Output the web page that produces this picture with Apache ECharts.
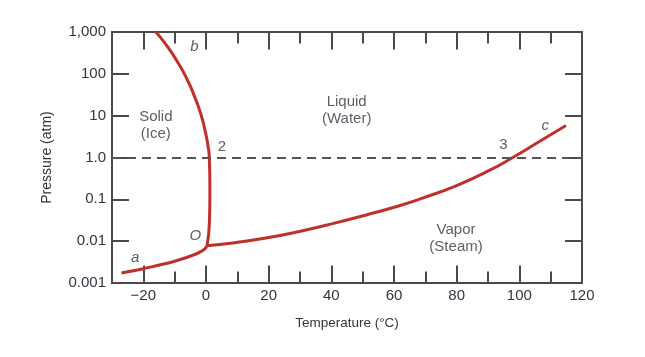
<!DOCTYPE html>
<html>
<head>
<meta charset="utf-8">
<script src="https://cdn.jsdelivr.net/npm/echarts@6/dist/echarts.min.js"></script>
<style>html,body{margin:0;padding:0;background:#fff}#c{width:645px;height:357px}</style>
</head>
<body>
<div id="c"></div>
<script>
// ---- data (temperature °C, pressure atm) ----
const solidLiquid = [[-16,1000],[-12.3,446],[-8.85,179],[-5.95,71.5],[-3.65,28.6],[-1.75,11.5],[-0.35,4.58],[0.67,1.83],[1.05,1.0],[1.24,0.152],[1.15,0.0429],[0.9,0.0169],[0.57,0.0103],[0.3,0.0078]];
const solidVapor = [[-27,0.00174],[-20,0.0022],[-10,0.0033],[-3,0.005],[-0.5,0.0064],[0.3,0.0078]];
const liquidVapor = [[0.3,0.0078],[8.5,0.00906],[19.15,0.0119],[29.8,0.0171],[40.4,0.0262],[51.1,0.0422],[61.7,0.0703],[69.1,0.107],[79.8,0.211],[90.4,0.49],[97.9,1.0],[106.4,2.41],[114.9,5.8]];
const referencePressure = 1.0;
const xTickValues = [-20,0,20,40,60,80,100,120];
const xTickLabels = ['\u221220','0','20','40','60','80','100','120'];
const xMinorValues = [-30,-10,10,30,50,70,90,110];
const yTickExponents = [-3,-2,-1,0,1,2,3];
const yTickLabels = ['0.001','0.01','0.1','1.0','10','100','1,000'];
const annoNames = ['b','Solid\n(Ice)','2','Liquid\n(Water)','3','c','O','a','Vapor\n(Steam)'];
const annoT = [-3.7,-16,5.1,44.9,94.9,108.3,-3.4,-22.6,79.8];
const annoP = [450,6.0,1.83,13.4,2.0,5.8,0.0135,0.00397,0.0119];
const italicNames = ['a','b','c','O'];

const FONT = '"Liberation Sans", Arial, sans-serif';
const TXT = '#33343f';
const AX = '#4a4a4a';
const RED = '#c0302b';

const chart = echarts.init(document.getElementById('c'), null, {renderer:'canvas'});

function xAxisBase(pos, withLabels, ticks, len) {
  return {
    type:'value', position:pos, min:-30, max:120, interval:10,
    axisLine:{show:true, onZero:false, lineStyle:{color:AX, width:2}},
    axisTick:{show:true, inside:true, length:len, customValues:ticks, lineStyle:{color:AX, width:2}},
    axisLabel:withLabels ? {
      show:true, customValues:xTickValues, margin:5, fontSize:15, color:TXT, fontFamily:FONT,
      formatter:v => { const i = xTickValues.indexOf(Math.round(v)); return i >= 0 ? xTickLabels[i] : ''; }
    } : {show:false},
    splitLine:{show:false}
  };
}
function yAxisBase(pos, withLabels) {
  return {
    type:'log', logBase:10, position:pos, min:0.001, max:1000, splitNumber:6,
    axisLine:{show:true, onZero:false, lineStyle:{color:AX, width:2}},
    axisTick:{show:true, inside:true, length:17, lineStyle:{color:AX, width:2}},
    axisLabel:withLabels ? {
      show:true, margin:6, fontSize:15, color:TXT, fontFamily:FONT,
      formatter:v => { const i = yTickExponents.indexOf(Math.round(Math.log10(v))); return i >= 0 ? yTickLabels[i] : ''; }
    } : {show:false},
    splitLine:{show:false}, minorTick:{show:false}
  };
}

const xMain = xAxisBase('bottom', true, xTickValues, 17.5);
xMain.name = 'Temperature (\u00B0C)';
xMain.nameLocation = 'middle';
xMain.nameGap = 33;
xMain.nameTextStyle = {fontSize:13.5, color:TXT, fontFamily:FONT};

const yMain = yAxisBase('left', true);
yMain.name = 'Pressure (atm)';
yMain.nameLocation = 'middle';
yMain.nameGap = 58;
yMain.nameTextStyle = {fontSize:14, color:TXT, fontFamily:FONT};

const lineSeries = (data, sm) => ({
  type:'line', data:data, xAxisIndex:0, yAxisIndex:0, smooth:sm, symbol:'none',
  lineStyle:{color:RED, width:3}, silent:true, z:3
});

const s1 = lineSeries(solidLiquid, 0.6);
s1.markLine = {
  silent:true, symbol:'none', label:{show:false},
  lineStyle:{type:[9,6], color:'#555', width:2},
  data:[{yAxis:referencePressure}]
};

const option = {
  animation:false,
  grid:{left:112, top:32, width:470, height:251, containLabel:false},
  xAxis:[
    xMain,
    xAxisBase('bottom', false, xMinorValues, 11.5),
    xAxisBase('top', false, xTickValues, 17.5),
    xAxisBase('top', false, xMinorValues, 11.5)
  ],
  yAxis:[yMain, yAxisBase('right', false)],
  series:[
    s1,
    lineSeries(solidVapor, 0.4),
    lineSeries(liquidVapor, 0.5),
    {
      type:'scatter', xAxisIndex:0, yAxisIndex:0, symbolSize:1, silent:true, z:5,
      itemStyle:{color:'transparent'},
      data:annoNames.map((n,i) => ({
        name:n, value:[annoT[i], annoP[i]],
        label:{fontStyle: italicNames.indexOf(n) >= 0 ? 'italic' : 'normal'}
      })),
      label:{show:true, position:'inside', formatter:'{b}', fontSize:15, lineHeight:17,
             color:TXT, fontFamily:FONT, align:'center', verticalAlign:'middle'}
    }
  ]
};
chart.setOption(option);
</script>
</body>
</html>
